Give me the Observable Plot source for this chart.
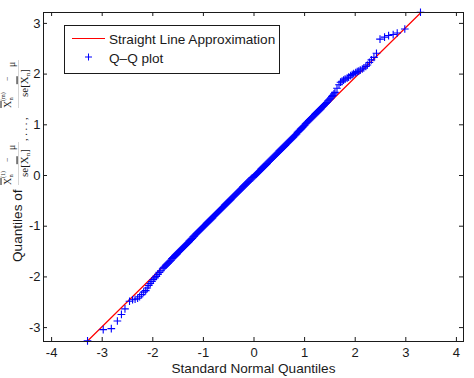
<!DOCTYPE html>
<html>
<head>
<meta charset="utf-8">
<script src="https://cdn.jsdelivr.net/npm/d3@7"></script>
<script src="https://cdn.jsdelivr.net/npm/@observablehq/plot@0.6"></script>
<style>
  html, body { margin: 0; padding: 0; background: #fff; }
  svg { display: block; }
</style>
</head>
<body>
<div id="chart"></div>
<script>
// ---- data ----
const xTicks = [-4, -3, -2, -1, 0, 1, 2, 3, 4];
const yTicks = [-3, -2, -1, 0, 1, 2, 3];

const xLabel = "Standard Normal Quantiles";
const legendLabels = ["Straight Line Approximation", "Q\u2013Q plot"];

// straight line approximation endpoints
const lineX = [-3.30, 3.30];
const lineY = [-3.274, 3.215];

// Q-Q points: lower tail (sparse markers)
const lowX = [-3.29, -2.98, -2.82, -2.70, -2.62, -2.55, -2.46, -2.40, -2.35, -2.30, -2.26, -2.22,
  -2.18, -2.14, -2.11, -2.08, -2.05, -2.02, -1.99, -1.96, -1.93, -1.90, -1.87, -1.84];
const lowY = [-3.26, -3.04, -3.02, -2.87, -2.74, -2.63, -2.48, -2.45, -2.44, -2.42, -2.39, -2.35,
  -2.30, -2.27, -2.22, -2.17, -2.13, -2.09, -2.05, -2.02, -1.99, -1.95, -1.91, -1.88];

// dense central band
const midX = [
  -1.80, -1.78, -1.76, -1.74, -1.72, -1.70, -1.68, -1.66, -1.64, -1.62,
  -1.60, -1.58, -1.56, -1.54, -1.52, -1.50, -1.48, -1.46, -1.44, -1.42,
  -1.40, -1.38, -1.36, -1.34, -1.32, -1.30, -1.28, -1.26, -1.24, -1.22,
  -1.20, -1.18, -1.16, -1.14, -1.12, -1.10, -1.08, -1.06, -1.04, -1.02,
  -1.00, -0.98, -0.96, -0.94, -0.92, -0.90, -0.88, -0.86, -0.84, -0.82,
  -0.80, -0.78, -0.76, -0.74, -0.72, -0.70, -0.68, -0.66, -0.64, -0.62,
  -0.60, -0.58, -0.56, -0.54, -0.52, -0.50, -0.48, -0.46, -0.44, -0.42,
  -0.40, -0.38, -0.36, -0.34, -0.32, -0.30, -0.28, -0.26, -0.24, -0.22,
  -0.20, -0.18, -0.16, -0.14, -0.12, -0.10, -0.08, -0.06, -0.04, -0.02,
  0.00, 0.02, 0.04, 0.06, 0.08, 0.10, 0.12, 0.14, 0.16, 0.18,
  0.20, 0.22, 0.24, 0.26, 0.28, 0.30, 0.32, 0.34, 0.36, 0.38,
  0.40, 0.42, 0.44, 0.46, 0.48, 0.50, 0.52, 0.54, 0.56, 0.58,
  0.60, 0.62, 0.64, 0.66, 0.68, 0.70, 0.72, 0.74, 0.76, 0.78,
  0.80, 0.82, 0.84, 0.86, 0.88, 0.90, 0.92, 0.94, 0.96, 0.98,
  1.00, 1.02, 1.04, 1.06, 1.08, 1.10, 1.12, 1.14, 1.16, 1.18,
  1.20, 1.22, 1.24, 1.26, 1.28, 1.30, 1.32, 1.34, 1.36, 1.38,
  1.40, 1.42, 1.44, 1.46, 1.48, 1.50, 1.52, 1.54, 1.56, 1.58,
  1.60
];
const midY = [
  -1.83, -1.81, -1.79, -1.77, -1.75, -1.73, -1.71, -1.69, -1.67, -1.64,
  -1.62, -1.60, -1.58, -1.56, -1.54, -1.52, -1.50, -1.48, -1.46, -1.44,
  -1.42, -1.40, -1.38, -1.36, -1.34, -1.32, -1.30, -1.28, -1.26, -1.24,
  -1.21, -1.19, -1.17, -1.15, -1.13, -1.11, -1.09, -1.07, -1.05, -1.03,
  -1.01, -0.99, -0.97, -0.95, -0.93, -0.91, -0.89, -0.87, -0.85, -0.83,
  -0.81, -0.79, -0.77, -0.75, -0.73, -0.71, -0.69, -0.67, -0.65, -0.63,
  -0.61, -0.59, -0.57, -0.55, -0.53, -0.51, -0.49, -0.47, -0.45, -0.43,
  -0.41, -0.39, -0.37, -0.35, -0.33, -0.31, -0.29, -0.27, -0.25, -0.23,
  -0.21, -0.19, -0.17, -0.15, -0.13, -0.11, -0.09, -0.07, -0.05, -0.04,
  -0.02, 0.00, 0.02, 0.04, 0.06, 0.08, 0.10, 0.12, 0.14, 0.16,
  0.18, 0.20, 0.22, 0.24, 0.26, 0.28, 0.30, 0.32, 0.34, 0.36,
  0.38, 0.40, 0.42, 0.44, 0.46, 0.48, 0.50, 0.52, 0.54, 0.56,
  0.58, 0.60, 0.62, 0.64, 0.66, 0.68, 0.70, 0.72, 0.74, 0.76,
  0.78, 0.80, 0.82, 0.85, 0.87, 0.89, 0.91, 0.93, 0.95, 0.97,
  0.99, 1.02, 1.04, 1.06, 1.08, 1.10, 1.12, 1.14, 1.16, 1.18,
  1.20, 1.22, 1.24, 1.26, 1.28, 1.30, 1.32, 1.34, 1.36, 1.38,
  1.40, 1.42, 1.44, 1.47, 1.49, 1.51, 1.53, 1.56, 1.58, 1.61,
  1.64
];

// upper tail (sparse markers)
const highX = [1.64, 1.68, 1.71, 1.74, 1.77, 1.80, 1.84, 1.87, 1.91, 1.94, 1.97, 2.01,
  2.04, 2.07, 2.10, 2.14, 2.17, 2.21, 2.24, 2.28, 2.32, 2.37, 2.42, 2.49,
  2.58, 2.66, 2.75, 2.83, 2.98, 3.29];
const highY = [1.72, 1.79, 1.84, 1.86, 1.88, 1.90, 1.92, 1.94, 1.97, 1.99, 2.01, 2.03,
  2.05, 2.06, 2.08, 2.10, 2.12, 2.15, 2.18, 2.23, 2.28, 2.33, 2.41, 2.69,
  2.73, 2.76, 2.78, 2.81, 2.89, 3.22];

// ---- build ----
const qqX = [...lowX, ...midX, ...highX];
const qqY = [...lowY, ...midY, ...highY];
const points = qqX.map((x, i) => ({x, y: qqY[i]}));
const linePts = lineX.map((x, i) => ({x, y: lineY[i]}));
const fmt = d => String(d);
const ink = "#1a1a1a";

const W = 474, H = 378;
const mT = 12, mL = 43, mR = 11, mB = 37;
const innerW = W - mL - mR, innerH = H - mT - mB;
const tickLen = 4;

const plot = Plot.plot({
  width: W,
  height: H,
  marginTop: mT, marginLeft: mL, marginRight: mR, marginBottom: mB,
  style: {fontFamily: "'Liberation Sans', Arial, Helvetica, sans-serif", fontSize: "13px", color: ink, background: "#fff"},
  x: {domain: [-4.16, 4.14], ticks: xTicks, tickFormat: fmt, tickSize: 0, tickPadding: 6, label: null},
  y: {domain: [-3.274, 3.215], ticks: yTicks, tickFormat: fmt, tickSize: 0, tickPadding: 3, label: null},
  marks: [
    Plot.line(linePts, {x: "x", y: "y", stroke: "#ff0000", strokeWidth: 1.2}),
    Plot.dot(points, {x: "x", y: "y", symbol: "plus", r: 2.6, stroke: "#0000ff", strokeWidth: 1.1}),
    Plot.tickX(xTicks, {x: d => d, insetTop: innerH - tickLen, stroke: ink}),
    Plot.tickX(xTicks, {x: d => d, insetBottom: innerH - tickLen, stroke: ink}),
    Plot.tickY(yTicks, {y: d => d, insetRight: innerW - tickLen, stroke: ink}),
    Plot.tickY(yTicks, {y: d => d, insetLeft: innerW - tickLen, stroke: ink}),
    Plot.frame({stroke: ink, strokeWidth: 1}),
    Plot.text([xLabel], {frameAnchor: "bottom", lineAnchor: "middle", dy: 27, fontSize: 13.6, fill: ink})
  ]
});
document.getElementById("chart").appendChild(plot);

const svg = d3.select(plot);

// ---- legend ----
const lg = svg.append("g").attr("text-anchor", "start");
lg.append("rect").attr("x", 64.5).attr("y", 25.5).attr("width", 215).attr("height", 48)
  .attr("fill", "#fff").attr("stroke", ink).attr("stroke-width", 1);
lg.append("line").attr("x1", 72).attr("x2", 105).attr("y1", 38.5).attr("y2", 38.5)
  .attr("stroke", "#ff0000").attr("stroke-width", 1.2);
lg.append("path").attr("d", "M85,57h7M88.5,53.5v7").attr("stroke", "#0000ff").attr("stroke-width", 1).attr("fill", "none");
lg.selectAll("text.lab").data(legendLabels).join("text")
  .attr("x", 109).attr("y", (d, i) => 43.5 + i * 19)
  .attr("text-anchor", "start")
  .attr("font-family", "'Liberation Sans', Arial, sans-serif")
  .attr("font-size", 13.6).attr("fill", ink).text(d => d);

// ---- y label (rotated, with fractions) ----
const yl = svg.append("g").attr("transform", "rotate(-90)").attr("fill", ink).attr("text-anchor", "start");
yl.append("text").attr("x", -262).attr("y", 21.5).attr("text-anchor", "start")
  .attr("font-family", "'Liberation Sans', Arial, sans-serif").attr("font-size", 13.6)
  .text("Quantiles of");

const serif = "'Liberation Serif', 'DejaVu Serif', serif";
function frac(u0, sup, minusDx, muDx, denDx, span) {
  const t = (x, y, s, txt, deco) => {
    const e = yl.append("text").attr("x", x).attr("y", y).attr("text-anchor", "start")
      .attr("font-family", serif).attr("font-size", s).text(txt);
    if (deco) e.style("text-decoration", "overline");
    return e;
  };
  t(u0, 10.5, 10, "X", true);
  t(u0 + 7.5, 12.8, 6.5, "n");
  t(u0 + 7, 5, 6, sup);
  t(u0 + minusDx, 9.5, 8, "\u2212");
  t(u0 + muDx, 14.5, 9.5, "\u03bc");
  const d = yl.append("text").attr("x", u0 + denDx).attr("y", 27.5).attr("text-anchor", "start")
    .attr("font-family", serif).attr("font-size", 11);
  d.append("tspan").text("se[");
  d.append("tspan").style("text-decoration", "overline").text("X");
  d.append("tspan").attr("font-size", 7).attr("dy", 2).text("n");
  d.append("tspan").attr("dy", -2).text("]");
  yl.append("line").attr("x1", u0).attr("x2", u0 + span).attr("y1", 18.5).attr("y2", 18.5)
    .attr("stroke", "#aaa").attr("stroke-width", 0.5);
}
frac(-185, "(1)", 23, 35, 8, 43);
yl.append("text").attr("x", -141).attr("y", 27).attr("text-anchor", "start").attr("font-family", serif)
  .attr("font-size", 10.5).text(", . . . ,");
frac(-108, "(m)", 27, 41, 11, 48);
</script>
</body>
</html>
